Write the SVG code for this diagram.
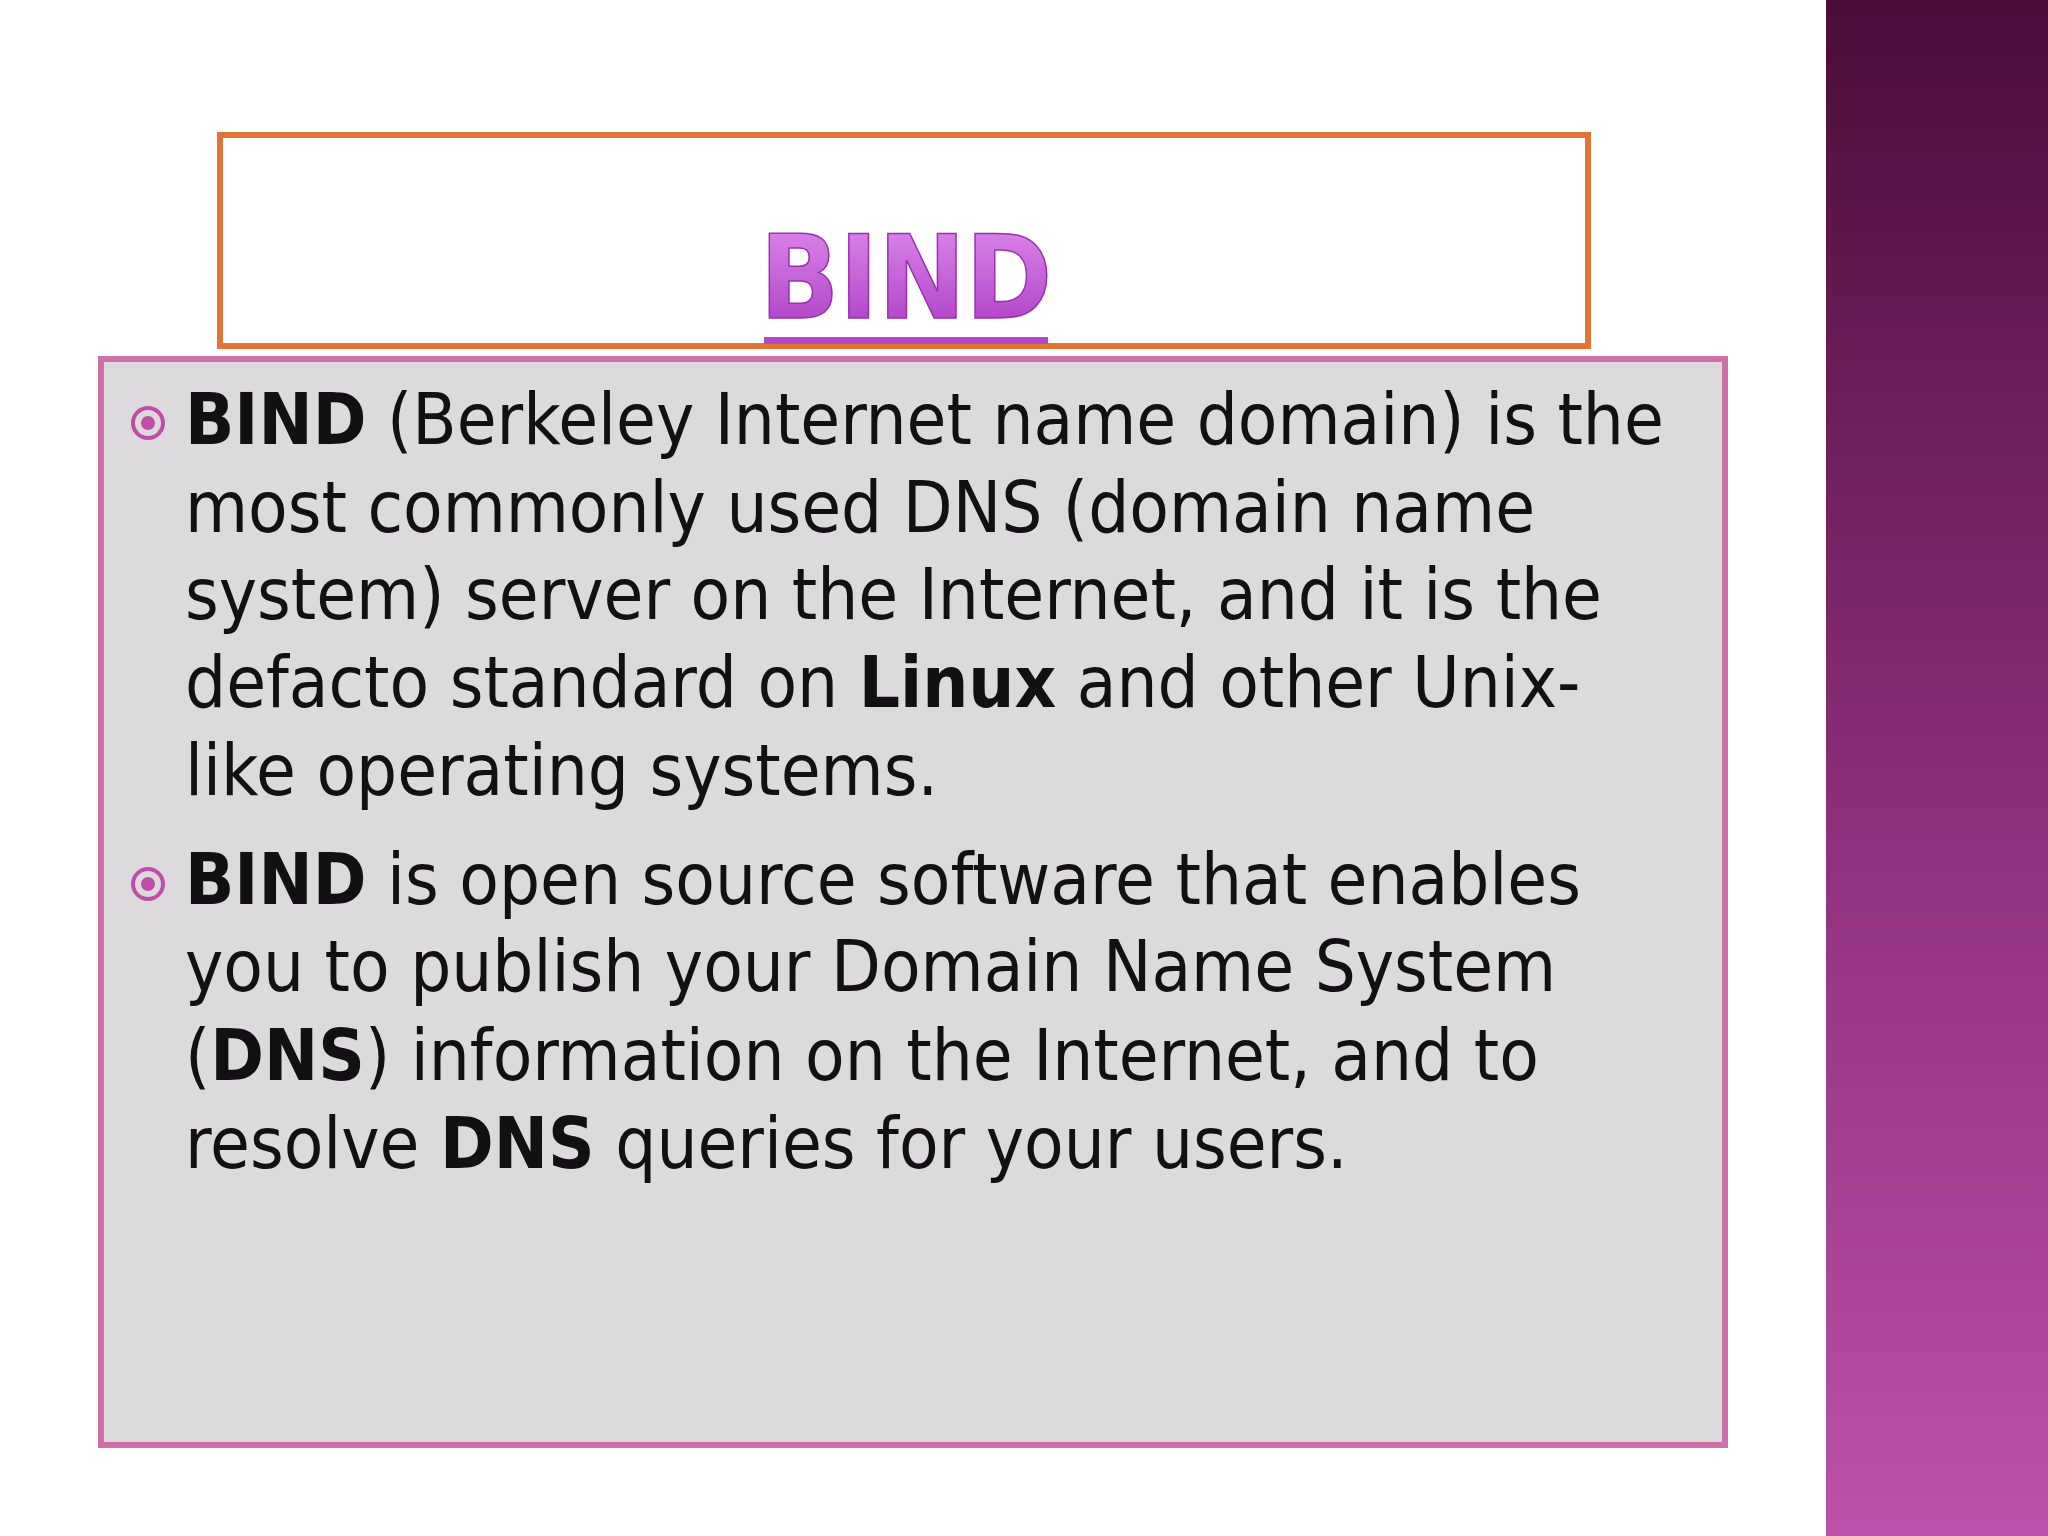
<svg xmlns="http://www.w3.org/2000/svg" width="2048" height="1536" viewBox="0 0 2048 1536">
<defs>
<linearGradient id="bar" x1="0" y1="0" x2="0" y2="1"><stop offset="0" stop-color="#4a0d38"/><stop offset="0.5" stop-color="#8a2d78"/><stop offset="1" stop-color="#bb52ab"/></linearGradient>
<linearGradient id="tg" x1="0" y1="0" x2="0" y2="1"><stop offset="0" stop-color="#e28ef0"/><stop offset="1" stop-color="#a838c0"/></linearGradient>
</defs>
<style>
.t{font-family:"DejaVu Sans Condensed","DejaVu Sans",sans-serif;font-size:72px;fill:#111}
.b{font-weight:bold}
</style>
<rect width="2048" height="1536" fill="#fff"/>
<rect x="1826" y="0" width="222" height="1536" fill="url(#bar)"/>
<g id="title">
<rect x="220" y="135" width="1368" height="211" fill="none" stroke="#e07535" stroke-width="6"/>
<text x="906" y="318" text-anchor="middle" font-family="DejaVu Sans Condensed,DejaVu Sans,sans-serif" font-weight="bold" font-size="116" fill="url(#tg)" stroke="#9a30b0" stroke-width="1.5">BIND</text>
<rect x="764" y="337" width="284" height="7" fill="#b048c8"/>
</g>
<g id="content">
<rect x="101" y="359" width="1624" height="1086" fill="#dcdadd" stroke="#d070a8" stroke-width="6"/>
<g fill="none" stroke="#c04ea8" stroke-width="4"><circle cx="148" cy="423" r="15"/><circle cx="148" cy="884" r="15"/></g>
<g fill="#c04ea8"><circle cx="148" cy="423" r="7"/><circle cx="148" cy="884" r="7"/></g>
<text class="t" x="185" y="444"> <tspan class="b">BIND</tspan> (Berkeley Internet name domain) is the</text>
<text class="t" x="185" y="532">most commonly used DNS (domain name</text>
<text class="t" x="185" y="619">system) server on the Internet, and it is the</text>
<text class="t" x="185" y="707">defacto standard on <tspan class="b">Linux</tspan> and other Unix-</text>
<text class="t" x="185" y="795">like operating systems.</text>
<text class="t" x="185" y="904"><tspan class="b">BIND</tspan> is open source software that enables</text>
<text class="t" x="185" y="991">you to publish your Domain Name System</text>
<text class="t" x="185" y="1080">(<tspan class="b">DNS</tspan>) information on the Internet, and to</text>
<text class="t" x="185" y="1168">resolve <tspan class="b">DNS</tspan> queries for your users.</text>
</g>
</svg>
